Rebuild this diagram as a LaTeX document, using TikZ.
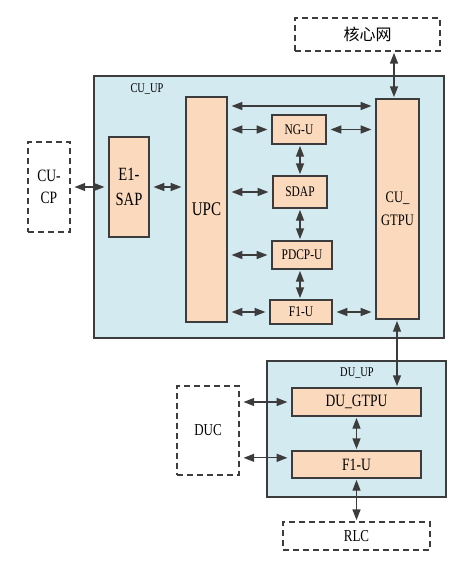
\documentclass[tikz,border=0pt]{standalone}
\usepackage{fontspec}
\setmainfont{Liberation Serif}[FakeStretch=0.78]
\newfontfamily\cjk{Noto Sans CJK SC}
\usepackage{tikz}
\usetikzlibrary{positioning,calc,arrows.meta}
\definecolor{upblue}{HTML}{D3EAF0}
\definecolor{unitorange}{HTML}{FAD9BC}
\definecolor{edgegray}{HTML}{3C3C3C}

\begin{document}
\begin{tikzpicture}[x=0.75pt,y=-0.75pt,
    area/.style={draw=edgegray, fill=upblue, line width=0.9pt, minimum width=#1},
    unit/.style={draw=edgegray, fill=unitorange, line width=0.9pt, inner sep=0pt},
    ext/.style={draw=edgegray, dash pattern=on 4.5pt off 3pt, line width=0.8pt, inner sep=0pt},
    link/.style={{Triangle[length=8pt,width=6pt]}-{Triangle[length=8pt,width=6pt]}, line width=0.9pt, draw=edgegray, shorten <=3pt, shorten >=3pt}]
    \useasboundingbox (0,0) rectangle (465,579);

    % Outer areas
    \node[area=262.5pt, minimum height=196.5pt, inner sep=0pt] (cuup) at (269,207) {};
    \node[area=134.25pt, minimum height=102pt, inner sep=0pt] (duup) at (356.5,429) {};
    \node[font=\fontsize{10}{12}\selectfont] (cuuplbl) at (147,89) {CU\_UP};
    \node[font=\fontsize{10}{12}\selectfont] (duuplbl) at (357,373) {DU\_UP};

    % External blocks
    \node[ext, minimum width=108.75pt, minimum height=24.75pt, font=\cjk\fontsize{12}{14}\selectfont] (core) at (367.5,34.5) {核心网};
    \node[ext, minimum width=31.5pt, minimum height=67.5pt, align=center, font=\fontsize{13}{17}\selectfont] (cucp) at (49,187) {CU-\\CP};
    \node[ext, minimum width=46.5pt, minimum height=66.75pt, font=\fontsize{12.5}{14}\selectfont] (duc) at (208,430.5) {DUC};
    \node[ext, minimum width=110.25pt, minimum height=21pt, font=\fontsize{12.5}{14}\selectfont] (rlc) at (356.5,536) {RLC};

    % CU_UP units
    \node[unit, minimum width=30pt, minimum height=75pt, align=center, font=\fontsize{14}{19}\selectfont] (esap) at (129,187) {E1-\\SAP};
    \node[unit, minimum width=30.75pt, minimum height=168.75pt, font=\fontsize{14.5}{16}\selectfont] (upc) at (206.5,209.5) {UPC};
    \node[unit, minimum width=32.25pt, minimum height=165pt, align=center, font=\fontsize{12}{17}\selectfont] (gtpu) at (397.5,209) {CU\_\\GTPU};
    \node[unit, minimum width=40.5pt, minimum height=21.75pt, font=\fontsize{11}{13}\selectfont] (ngu) at (299,129.5) {NG-U};
    \node[unit, minimum width=40.5pt, minimum height=24pt, font=\fontsize{11}{13}\selectfont] (sdap) at (300,192) {SDAP};
    \node[unit, minimum width=45pt, minimum height=21pt, font=\fontsize{11}{13}\selectfont] (pdcp) at (302,255) {PDCP-U};
    \node[unit, minimum width=46.5pt, minimum height=18pt, font=\fontsize{11}{13}\selectfont] (fone) at (301,312) {F1-U};

    % DU_UP units
    \node[unit, minimum width=96.75pt, minimum height=21pt, font=\fontsize{13}{15}\selectfont] (dugtpu) at (356.5,402) {DU\_GTPU};
    \node[unit, minimum width=96.75pt, minimum height=20.25pt, font=\fontsize{13}{15}\selectfont] (dufone) at (356.5,464.5) {F1-U};

    % Helper points
    \coordinate (toprow) at (300,106);
    \coordinate (corelink) at (394,0);
    \coordinate (dulink) at (397,0);

    % Connectors in CU_UP
    \draw[link] (cucp) -- (esap);
    \draw[link] (esap) -- (upc.west |- esap);
    \draw[link] (upc.east |- toprow) -- (gtpu.west |- toprow);
    \draw[link] (upc.east |- ngu) -- (ngu);
    \draw[link] (ngu) -- (gtpu.west |- ngu);
    \draw[link] (upc.east |- sdap) -- (sdap);
    \draw[link] (upc.east |- pdcp) -- (pdcp);
    \draw[link] (upc.east |- fone) -- (fone);
    \draw[link] (fone) -- (gtpu.west |- fone);
    \draw[link, shorten <=1pt, shorten >=1pt] (ngu.south -| sdap) -- (sdap.north);
    \draw[link, shorten <=1pt, shorten >=1pt] (sdap.south) -- (sdap.south |- pdcp.north);
    \draw[link, shorten <=1pt, shorten >=1pt] (pdcp.south -| sdap) -- (sdap |- fone.north);

    % Links out of the areas
    \draw[link, shorten <=1pt, shorten >=1pt] (core.south -| corelink) -- (gtpu.north -| corelink);
    \draw[link, shorten <=1pt, shorten >=1pt] (gtpu.south -| dulink) -- (dugtpu.north -| dulink);

    % Connectors in DU_UP
    \draw[link] (duc.east |- dugtpu) -- (dugtpu.west);
    \draw[link] ([yshift=5pt]duc.east |- dufone) -- ([yshift=5pt]dufone.west);
    \draw[link, shorten <=1pt, shorten >=1pt] (dugtpu) -- (dufone);
    \draw[link, shorten <=1pt, shorten >=1pt] (dufone) -- (rlc);
\end{tikzpicture}
\end{document}
